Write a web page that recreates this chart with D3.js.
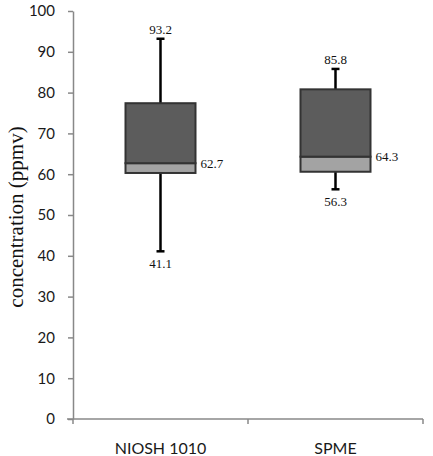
<!DOCTYPE html>
<html>
  <head>
    <meta charset="UTF-8" />
    <script src="https://cdn.jsdelivr.net/npm/d3@7"></script>
    <style>
      body { margin: 0; background: #fff; }
    </style>
  </head>
  <body>
    <svg></svg>
    <script>
      // data
      const categories = ["NIOSH 1010", "SPME"]
      const mins = [41.1, 56.3]
      const q1s = [60.3, 60.6]
      const medians = [62.7, 64.3]
      const q3s = [77.4, 80.8]
      const maxs = [93.2, 85.8]
      const yTicks = [0, 10, 20, 30, 40, 50, 60, 70, 80, 90, 100]

      const width = 433
      const height = 456
      const marge = { top: 11, bottom: 37, left: 73, right: 10 }

      const data = categories.map((c, i) => ({
        name: c,
        min: mins[i],
        q1: q1s[i],
        median: medians[i],
        q3: q3s[i],
        max: maxs[i],
      }))

      const svg = d3
        .select("svg")
        .attr("width", width)
        .attr("height", height)
        .attr("viewBox", [0, 0, width, height])

      const x = d3
        .scaleBand()
        .domain(categories)
        .range([marge.left, width - marge.right])

      const y = d3
        .scaleLinear()
        .domain([0, 100])
        .range([height - marge.bottom, marge.top])

      const boxW = 70
      const capW = 8

      // axes
      svg
        .append("g")
        .attr("transform", `translate(${marge.left},0)`)
        .call(d3.axisLeft(y).tickValues(yTicks).tickSize(5).tickSizeOuter(0).tickPadding(13))
        .call((g) => g.select(".domain").attr("stroke", "#888").attr("stroke-width", 1.5))
        .call((g) => g.selectAll(".tick line").attr("stroke", "#888").attr("stroke-width", 1.5))
        .call((g) =>
          g
            .selectAll(".tick text")
            .attr("font-family", "Lato, 'Open Sans', sans-serif")
            .attr("font-size", 15)
            .attr("fill", "#1a1a1a")
        )

      svg
        .append("g")
        .attr("transform", `translate(0,${height - marge.bottom})`)
        .call(d3.axisBottom(x).tickSize(0).tickPadding(24))
        .call((g) => g.select(".domain").attr("stroke", "#888").attr("stroke-width", 1.5).attr("d", `M${marge.left - 6},0H${width - marge.right}`))
        .call((g) =>
          g
            .selectAll(".tick text")
            .attr("font-family", "Lato, 'Open Sans', sans-serif")
            .attr("font-size", 16)
            .attr("fill", "#1a1a1a")
        )

      // category separators on x axis
      svg
        .append("g")
        .attr("stroke", "#888")
        .attr("stroke-width", 1.5)
        .selectAll("line")
        .data([...categories.map((c) => x(c)), x(categories[categories.length - 1]) + x.bandwidth()])
        .join("line")
        .attr("x1", (d) => d)
        .attr("x2", (d) => d)
        .attr("y1", height - marge.bottom)
        .attr("y2", height - marge.bottom + 5)

      // y title
      svg
        .append("text")
        .attr("transform", `translate(23,${(y(0) + y(100)) / 2 + 2}) rotate(-90)`)
        .attr("text-anchor", "middle")
        .attr("font-family", "'Liberation Serif', 'Times New Roman', serif")
        .attr("font-size", 21)
        .attr("fill", "#111")
        .text("concentration (ppmv)")

      const cx = (d) => x(d.name) + x.bandwidth() / 2

      const box = svg.append("g").selectAll("g").data(data).join("g")

      // whiskers
      box
        .append("line")
        .attr("x1", cx)
        .attr("x2", cx)
        .attr("y1", (d) => y(d.min))
        .attr("y2", (d) => y(d.max))
        .attr("stroke", "#000")
        .attr("stroke-width", 2.5)

      box
        .selectAll(".cap")
        .data((d) => [d.min, d.max].map((v) => ({ c: cx(d), v })))
        .join("line")
        .attr("x1", (d) => d.c - capW / 2)
        .attr("x2", (d) => d.c + capW / 2)
        .attr("y1", (d) => y(d.v))
        .attr("y2", (d) => y(d.v))
        .attr("stroke", "#000")
        .attr("stroke-width", 2.5)

      // lower part of box (q1 -> median)
      box
        .append("rect")
        .attr("x", (d) => cx(d) - boxW / 2)
        .attr("width", boxW)
        .attr("y", (d) => y(d.median))
        .attr("height", (d) => y(d.q1) - y(d.median))
        .attr("fill", "#a3a3a3")
        .attr("stroke", "#333")
        .attr("stroke-width", 2)

      // upper part of box (median -> q3)
      box
        .append("rect")
        .attr("x", (d) => cx(d) - boxW / 2)
        .attr("width", boxW)
        .attr("y", (d) => y(d.q3))
        .attr("height", (d) => y(d.median) - y(d.q3))
        .attr("fill", "#5c5c5c")
        .attr("stroke", "#333")
        .attr("stroke-width", 2)

      // value labels
      const lab = (sel) =>
        sel
          .attr("font-family", "'Liberation Serif', 'Times New Roman', serif")
          .attr("font-size", 13)
          .attr("fill", "#111")

      box
        .append("text")
        .attr("x", cx)
        .attr("y", (d) => y(d.max) - 5)
        .attr("text-anchor", "middle")
        .text((d) => d.max.toFixed(1))
        .call(lab)

      box
        .append("text")
        .attr("x", cx)
        .attr("y", (d) => y(d.min) + 17)
        .attr("text-anchor", "middle")
        .text((d) => d.min.toFixed(1))
        .call(lab)

      box
        .append("text")
        .attr("x", (d) => cx(d) + boxW / 2 + 5)
        .attr("y", (d) => y(d.median))
        .attr("dy", "0.35em")
        .text((d) => d.median.toFixed(1))
        .call(lab)
    </script>
  </body>
</html>
